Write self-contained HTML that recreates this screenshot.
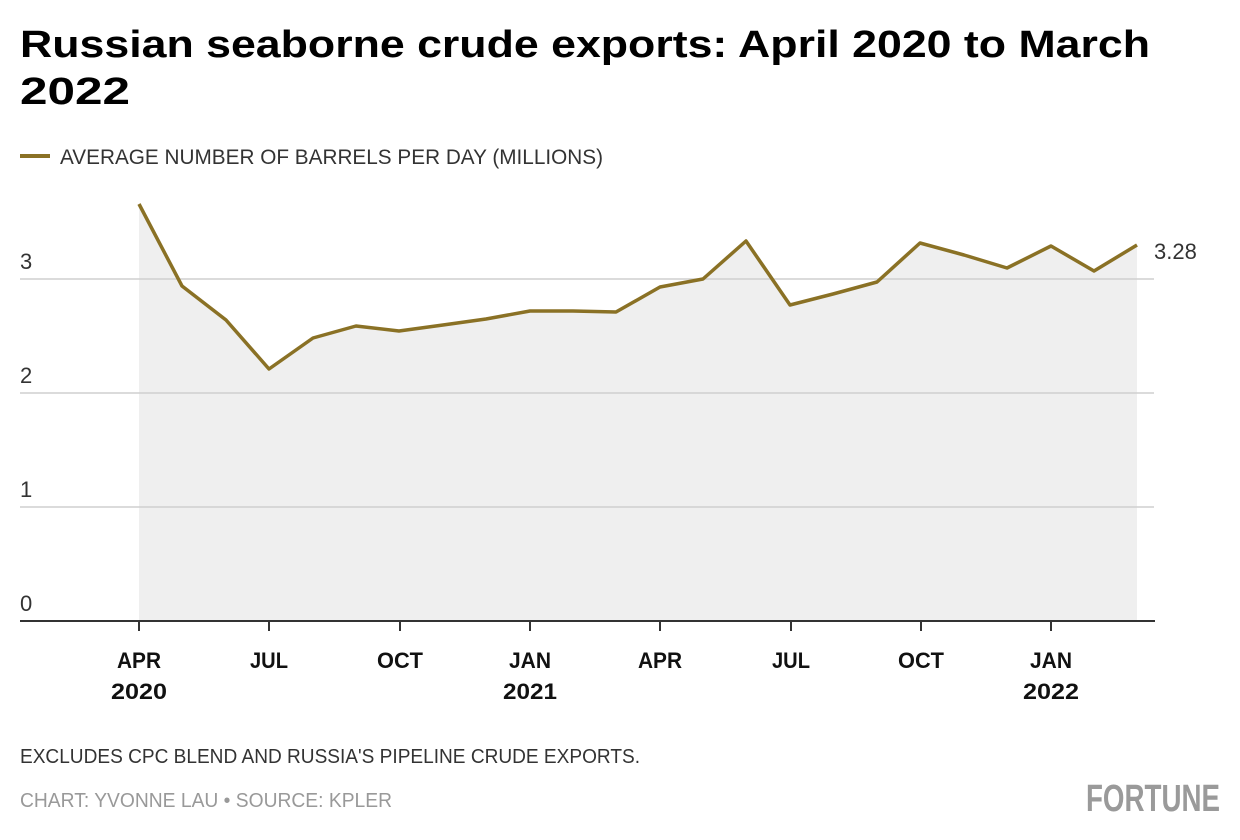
<!DOCTYPE html>
<html><head><meta charset="utf-8"><style>
html,body{margin:0;padding:0;background:#fff;width:1240px;height:840px;overflow:hidden}
svg{display:block}
</style></head><body>
<svg width="1240" height="840" xmlns="http://www.w3.org/2000/svg" font-family="'Liberation Sans', sans-serif">
<text x="20" y="57" font-size="38" font-weight="bold" fill="#000" textLength="1130" lengthAdjust="spacingAndGlyphs">Russian seaborne crude exports: April 2020 to March</text>
<text x="20" y="104" font-size="38" font-weight="bold" fill="#000" textLength="110" lengthAdjust="spacingAndGlyphs">2022</text>
<line x1="20" y1="156" x2="50" y2="156" stroke="#8a7125" stroke-width="4"/>
<text x="60" y="164" font-size="21" fill="#333" textLength="543" lengthAdjust="spacingAndGlyphs">AVERAGE NUMBER OF BARRELS PER DAY (MILLIONS)</text>
<polygon fill="#efefef" points="139,621 139,204 182,286 226,320 269,369 313,338 356,326 399,331 443,325 486,319 530,311 573,311 616,312 660,287 703,279 746,241 790,305 833,294 877,282 920,243 964,255 1007,268 1051,246 1094,271 1137,245 1137,621"/>
<g stroke="#cfcfcf" stroke-width="1.5">
<line x1="20" y1="279" x2="1154" y2="279"/>
<line x1="20" y1="393" x2="1154" y2="393"/>
<line x1="20" y1="507" x2="1154" y2="507"/>
</g>
<g font-size="22" fill="#333">
<text x="20" y="269">3</text><text x="20" y="383">2</text><text x="20" y="497">1</text><text x="20" y="611">0</text>
<text x="1154" y="259">3.28</text>
</g>
<polyline fill="none" stroke="#8a7125" stroke-width="3.5" stroke-linejoin="round" points="139,204 182,286 226,320 269,369 313,338 356,326 399,331 443,325 486,319 530,311 573,311 616,312 660,287 703,279 746,241 790,305 833,294 877,282 920,243 964,255 1007,268 1051,246 1094,271 1137,245"/>
<line x1="20" y1="621" x2="1155" y2="621" stroke="#333" stroke-width="2"/>
<g stroke="#333" stroke-width="2">
<line x1="139" y1="621" x2="139" y2="631"/><line x1="269" y1="621" x2="269" y2="631"/><line x1="400" y1="621" x2="400" y2="631"/><line x1="530" y1="621" x2="530" y2="631"/><line x1="660" y1="621" x2="660" y2="631"/><line x1="791" y1="621" x2="791" y2="631"/><line x1="921" y1="621" x2="921" y2="631"/><line x1="1051" y1="621" x2="1051" y2="631"/>
</g>
<g font-size="22" font-weight="bold" fill="#111" text-anchor="middle">
<text x="139" y="668" textLength="44" lengthAdjust="spacingAndGlyphs">APR</text><text x="139" y="699" textLength="56" lengthAdjust="spacingAndGlyphs">2020</text>
<text x="269" y="668" textLength="38" lengthAdjust="spacingAndGlyphs">JUL</text>
<text x="400" y="668" textLength="46" lengthAdjust="spacingAndGlyphs">OCT</text>
<text x="530" y="668" textLength="42" lengthAdjust="spacingAndGlyphs">JAN</text><text x="530" y="699" textLength="54" lengthAdjust="spacingAndGlyphs">2021</text>
<text x="660" y="668" textLength="44" lengthAdjust="spacingAndGlyphs">APR</text>
<text x="791" y="668" textLength="38" lengthAdjust="spacingAndGlyphs">JUL</text>
<text x="921" y="668" textLength="46" lengthAdjust="spacingAndGlyphs">OCT</text>
<text x="1051" y="668" textLength="42" lengthAdjust="spacingAndGlyphs">JAN</text><text x="1051" y="699" textLength="56" lengthAdjust="spacingAndGlyphs">2022</text>
</g>
<text x="20" y="763" font-size="20" fill="#333" textLength="620" lengthAdjust="spacingAndGlyphs">EXCLUDES CPC BLEND AND RUSSIA'S PIPELINE CRUDE EXPORTS.</text>
<text x="20" y="807" font-size="20" fill="#999" textLength="372" lengthAdjust="spacingAndGlyphs">CHART: YVONNE LAU • SOURCE: KPLER</text>
<text x="1220" y="811" font-size="38" font-weight="bold" fill="#9a9a9a" text-anchor="end" textLength="134" lengthAdjust="spacingAndGlyphs">FORTUNE</text>
</svg>
</body></html>
